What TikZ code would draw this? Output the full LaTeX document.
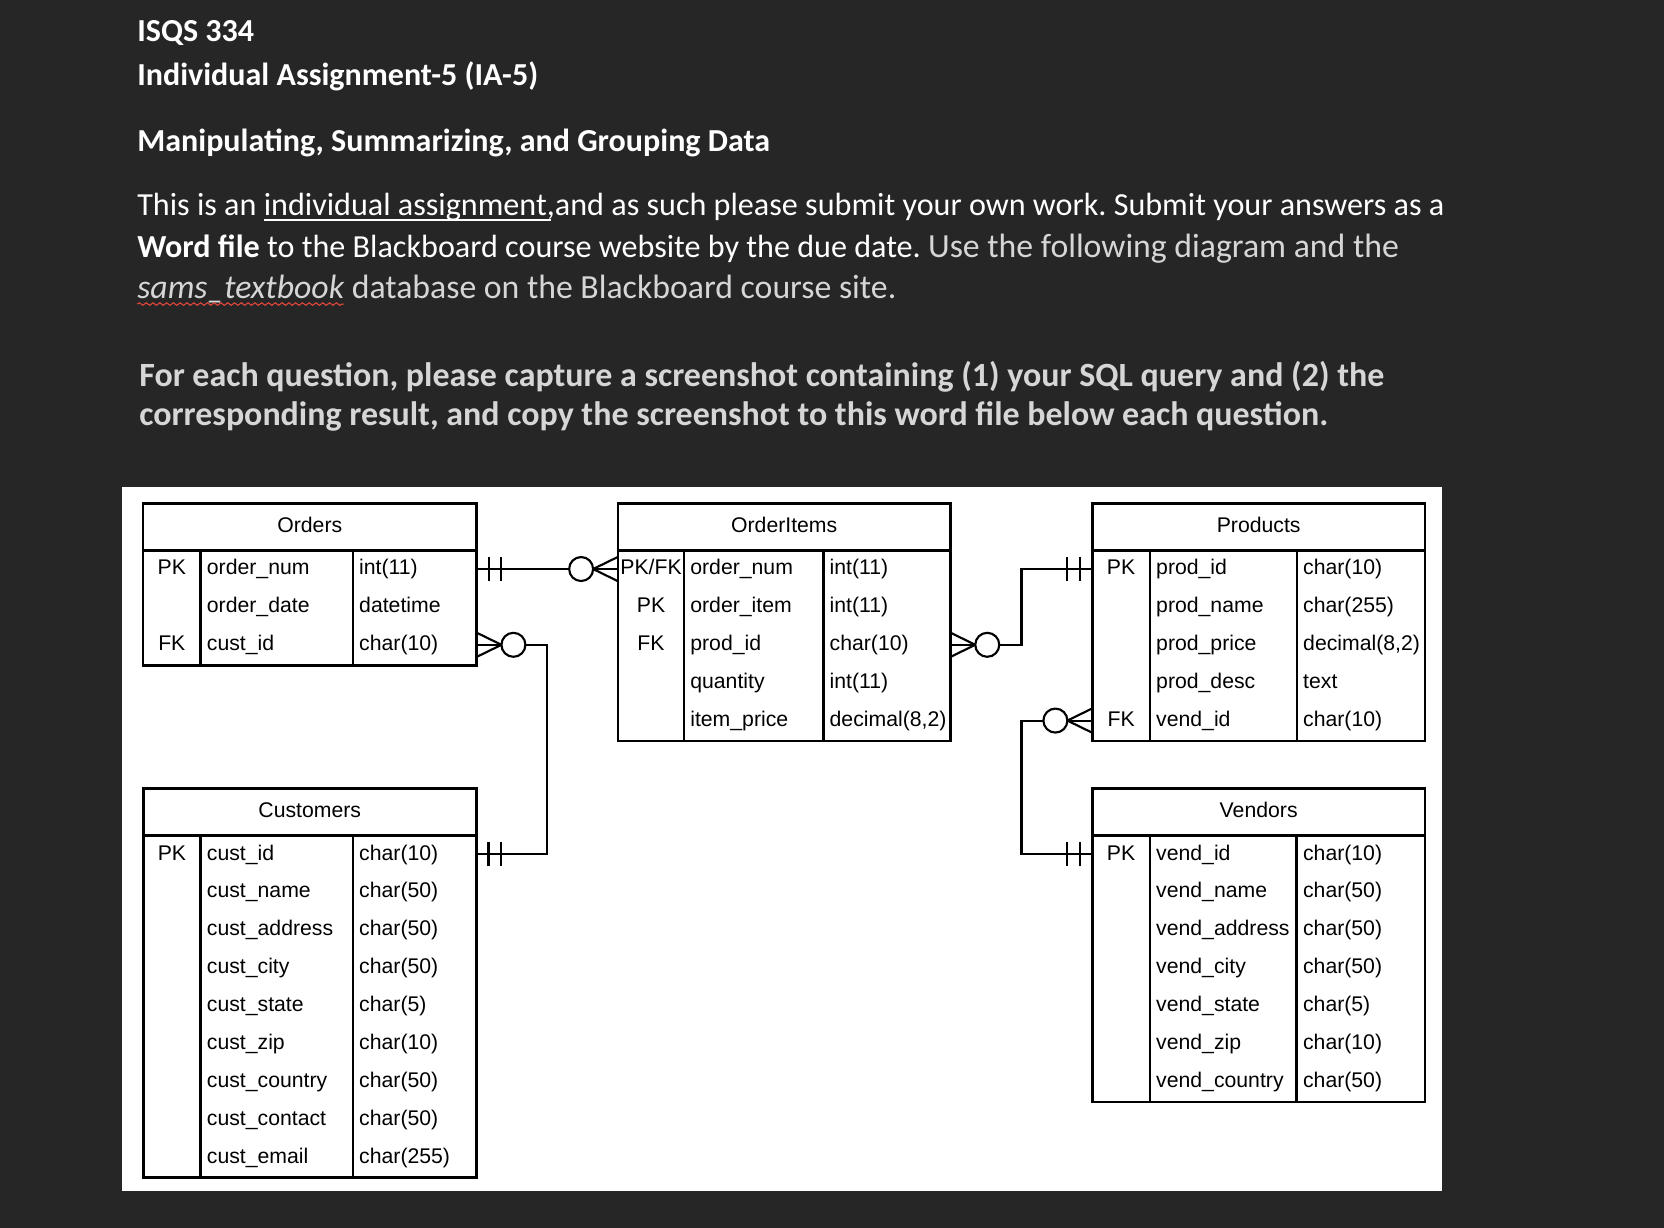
\documentclass[tikz,border=0pt]{standalone}
\usepackage{fontspec}
\setmainfont{Carlito}
\newfontfamily\arialf{Liberation Sans}
\usetikzlibrary{calc,fit,decorations.pathmorphing}
\definecolor{bgdark}{RGB}{38,38,38}
\definecolor{txtgray}{RGB}{214,214,214}
\definecolor{spellred}{RGB}{230,70,60}
\frenchspacing

\tikzset{
  every node/.style={inner sep=0pt, outer sep=0pt},
  titletext/.style={anchor=base west, text=white, font=\fontsize{15.1}{18}\selectfont\bfseries},
  bodytext/.style={anchor=base west, text=white, font=\fontsize{15.14}{18}\selectfont},
  graytext/.style={anchor=base west, text=txtgray, font=\fontsize{15.9}{18}\selectfont},
  boldgray/.style={anchor=base west, text=txtgray, font=\fontsize{16}{19}\selectfont\bfseries},
  tbox/.style={draw=black, line width=1.2pt, fill=white},
  tline/.style={draw=black, line width=1.2pt},
  headtext/.style={anchor=base, font=\arialf\fontsize{10}{12}\selectfont, text=black},
  cell/.style={anchor=base west, font=\arialf\fontsize{10}{12}\selectfont, text=black},
  keycell/.style={anchor=base, font=\arialf\fontsize{10}{12}\selectfont, text=black},
  rel/.style={draw=black, line width=1pt},
}

% #1 name, #2 left, #3 top, #4 col1, #5 col2, #6 right, #7 rows, #8 title, #9 row list
\newcommand\ertable[9]{%
  \pgfmathsetmacro\Hy{#3+44.6}%
  \pgfmathsetmacro\By{#3+44.6+17.3+35.7*(#7-1)+19.3}%
  \coordinate (#1-tl) at (#2,#3);
  \coordinate (#1-br) at (#6,\By);
  \node[tbox, fit=(#1-tl)(#1-br)] (#1) {};
  \draw[tline] (#2,\Hy) -- (#6,\Hy);
  \draw[tline] (#4,\Hy) -- (#4,\By);
  \draw[tline] (#5,\Hy) -- (#5,\By);
  \node[headtext] (#1-title) at ({(#2+#6)/2},#3+27) {#8};
  \foreach [count=\k from 0] \a/\b/\c in {#9} {
    \pgfmathsetmacro\ry{\Hy+17.3+35.7*\k}
    \coordinate (#1-r\k) at (#2,\ry);
    \node[keycell] (#1-k\k) at ({(#2+#4)/2},\ry+5.6) {\a};
    \node[cell] (#1-n\k) at (#4+6,\ry+5.6) {\b};
    \node[cell] (#1-t\k) at (#5+6,\ry+5.6) {\c};
  }
}

% crow's foot with zero-or-many circle; #1 edge point, #2 direction
\newcommand\zeromany[2]{%
  \begin{scope}[shift={(#1)}, xscale=#2]
    \draw[rel] (0,-11.5) -- (23.5,0) -- (0,11.5);
    \draw[rel, fill=white] (34.8,0) circle[radius=5.65pt];
  \end{scope}}
% exactly-one double bar
\newcommand\exactone[2]{%
  \begin{scope}[shift={(#1)}, xscale=#2]
    \draw[rel] (11.5,-11.5) -- (11.5,11.5) (23.5,-11.5) -- (23.5,11.5);
  \end{scope}}

\begin{document}
\begin{tikzpicture}[x=0.5pt, y=-0.5pt]
\fill[bgdark] (0,0) rectangle (1568,1157);
\useasboundingbox (0,0) rectangle (1568,1157);

% heading text
\node[titletext] (t1) at (129.4,39.3) {ISQS 334};
\node[titletext] (t2) at (129.4,81) {Individual Assignment-5 (IA-5)};
\node[titletext] (t3) at (129.4,142.9) {Manipulating, Summarizing, and Grouping Data};

\node[bodytext] (l4a) at (129.4,203.5) {This is an\ \mbox{}};
\node[bodytext] (l4b) at (l4a.base east) {individual assignment};
\node[bodytext] (l4c) at (l4b.base east) {,and as such please submit your own work. Submit your answers as a};
\draw[white, line width=0.8pt] ([yshift=-1.9pt]l4b.base west) -- ([yshift=-1.9pt,xshift=2pt]l4b.base east);

\node[bodytext] (l5) at (129.4,242.8) {\textbf{Word file} to the Blackboard course website by the due date. {\color{txtgray}\fontsize{15.9}{18}\selectfont Use the following diagram and the}};

\node[graytext] (l6a) at (129.4,281.1) {\itshape sams\_textbook};
\node[graytext] (l6b) at (l6a.base east) {\ database on the Blackboard course site.};
\draw[spellred, line width=0.5pt, decorate, decoration={snake, amplitude=0.6pt, segment length=3.2pt}]
  ([yshift=-2.7pt]l6a.base west) -- ([yshift=-2.7pt]l6a.base east);

\node[boldgray] (l7) at (131.3,364.4) {For each question, please capture a screenshot containing (1) your SQL query and (2) the};
\node[boldgray] (l8) at (131.3,400.5) {corresponding result, and copy the screenshot to this word file below each question.};

% white panel
\fill[white] (114.6,459.2) rectangle (1358.5,1122);

% tables
\ertable{orders}{134.8}{474.3}{189}{332.5}{449}{3}{Orders}
  {PK/order\_num/int(11), /order\_date/datetime, FK/cust\_id/char(10)}
\ertable{oitems}{582.4}{474.3}{644.5}{775.8}{895.5}{5}{OrderItems}
  {{PK/FK}/order\_num/int(11), PK/order\_item/int(11), FK/prod\_id/char(10), /quantity/int(11), /item\_price/{decimal(8,2)}}
\ertable{products}{1029.3}{474.3}{1083.5}{1222}{1342.8}{5}{Products}
  {PK/prod\_id/char(10), /prod\_name/char(255), /prod\_price/{decimal(8,2)}, /prod\_desc/text, FK/vend\_id/char(10)}
\ertable{customers}{135}{742.9}{189}{332.5}{448.8}{9}{Customers}
  {PK/cust\_id/char(10), /cust\_name/char(50), /cust\_address/char(50), /cust\_city/char(50), /cust\_state/char(5), /cust\_zip/char(10), /cust\_country/char(50), /cust\_contact/char(50), /cust\_email/char(255)}
\ertable{vendors}{1029.3}{742.9}{1083.5}{1221.9}{1342.8}{7}{Vendors}
  {PK/vend\_id/char(10), /vend\_name/char(50), /vend\_address/char(50), /vend\_city/char(50), /vend\_state/char(5), /vend\_zip/char(10), /vend\_country/char(50)}

% connector end points
\coordinate (a1) at (orders.east |- orders-r0);
\coordinate (a2) at (oitems.west |- oitems-r0);
\coordinate (b1) at (orders.east |- orders-r2);
\coordinate (b2) at (customers.east |- customers-r0);
\coordinate (c1) at (oitems.east |- oitems-r2);
\coordinate (c2) at (products.west |- products-r0);
\coordinate (d1) at (products.west |- products-r4);
\coordinate (d2) at (vendors.west |- vendors-r0);

% connectors
\draw[rel] (a1) -- (a2);
\draw[rel] (b1) -- ++(66.8,0) |- (b2);
\draw[rel] (c1) -- ++(67,0) |- (c2);
\draw[rel] (d1) -- ++(-66.8,0) |- (d2);

% cardinality marks
\exactone{a1}{1}
\zeromany{a2}{-1}
\zeromany{b1}{1}
\exactone{b2}{1}
\zeromany{c1}{1}
\exactone{c2}{-1}
\zeromany{d1}{-1}
\exactone{d2}{-1}
\end{tikzpicture}
\end{document}
